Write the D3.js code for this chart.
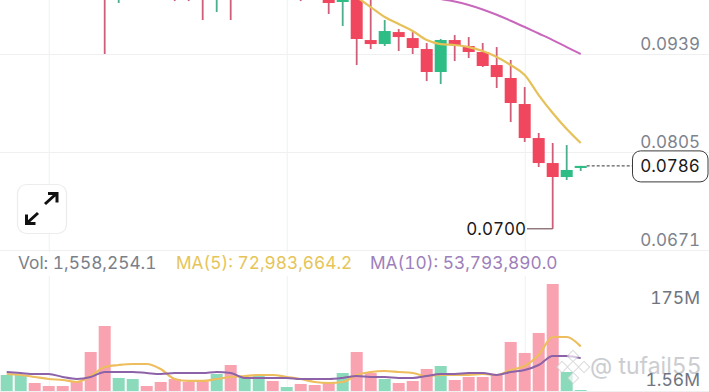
<!DOCTYPE html>
<html>
<head>
<meta charset="utf-8">
<script src="https://cdn.jsdelivr.net/npm/d3@7"></script>
<style>
  html, body { margin: 0; padding: 0; background: #fff; overflow: hidden; }
  text { font-family: Inter, "Noto Sans", sans-serif; font-variant-numeric: tabular-nums; }
</style>
</head>
<body>
<div id="container"></div>
<script>
let w = 709;
let h = 392;

// candles, oldest first. the first ones sit above the crop, their bodies are estimates
let opens = [.1108,.1122,.1134,.1126,.1120,.1115,.1106,.1088,.1056,.1072,.1084,.1078,.1070,.1060,.1052,.1039,.1050,.1034,.1044,.1052,.1045,.1049,.1038,.1030,.10101,.1022,.09581,.09526,.09690,.09608,.09458,.09144,.09581,.09499,.09417,.09239,.09062,.08706,.08241,.07899,.07708,.07831];
let closes = [.1122,.1134,.1126,.1120,.1115,.1106,.1088,.1056,.1072,.1084,.1078,.1070,.1060,.1052,.1039,.1050,.1034,.1044,.1052,.1045,.1049,.1038,.1030,.10087,.1022,.09595,.09526,.09704,.09622,.09472,.09144,.09581,.09513,.09417,.09226,.09075,.08720,.08241,.07899,.07708,.07804,.0786];
let highs = [.1130,.1141,.1139,.1131,.1124,.1119,.1111,.1094,.1081,.1090,.1089,.1082,.1074,.1066,.1058,.1057,.1054,.1049,.1058,.1056,.1053,.1052,.1042,.1034,.1027,.1035,.10128,.09855,.09731,.09690,.09540,.09595,.09649,.09622,.09540,.09485,.09308,.08938,.08310,.08173,.08145,.0786];
let lows = [.1098,.1112,.1119,.1114,.1108,.1101,.1076,.0939,.10087,.1062,.1070,.1061,.10114,.10114,.09855,.09964,.09855,.1026,.1037,.1038,.1039,.10114,.1021,.09937,.09773,.09239,.09458,.09499,.09431,.09390,.09020,.08979,.09294,.09335,.09212,.08925,.08460,.08187,.07845,.0700,.07667,.0779];

// price moving averages, only the part inside the crop
let priceMa5 = [[25,.10169],[26,.10032],[27,.09896],[28,.09800],[29,.09704],[30,.09581],[31,.09526],[32,.09513],[33,.09485],[34,.09431],[35,.09349],[36,.09239],[37,.09103],[38,.08829],[39,.08583],[40,.08364],[41,.08173]];
let priceMa10 = [[30,.1018],[31,.10142],[32,.10108],[33,.10060],[34,.09999],[35,.09926],[36,.09845],[37,.09759],[38,.09670],[39,.09581],[40,.09485],[41,.09390]];

// volume in millions
let volumes = [26.2,26.2,13.1,8.2,8.2,14.7,63.8,106.3,21.3,19.6,8.2,14.7,19.6,14.7,14.7,27.8,42.5,21.3,24.5,16.4,6.5,11.5,9.8,13.1,29.4,63.8,29.4,19.6,13.1,16.4,36.0,40.9,18,22.9,22.9,26.2,80.2,62.2,94.9,175,31.1,1.56];
let volMa5 = [27.8,26.2,22.9,19.6,18,14.7,24.5,39.3,42.5,44.2,44.2,36,19.6,16.4,16.4,19.6,22.9,24.5,26.2,26.2,22.9,19.6,14.7,13.1,14.7,26.2,31.1,32.7,31.1,29.4,24.5,26.2,26.2,26.2,27.8,26.2,34.4,40.9,58.9,88.3,88.3,73.0];
let volMa10 = [31.1,29.4,27.8,27.8,22.9,19.6,22.9,31.1,31.1,31.1,29.4,27.8,29.4,29.4,29.4,31.1,29.4,21.3,21.3,21.3,21.3,19.6,19.6,19.6,21.3,24.5,22.9,22.9,21.3,21.3,24.5,27.8,27.8,29.4,29.4,26.2,31.1,34.4,42.5,57.3,57.3,53.8];

let priceTicks = [0.0939, 0.0805, 0.0671];
let gridCandles = [3, 20, 37];
let lastPrice = 0.0786;
let lowPrice = 0.07;
let lowIndex = 39;

let red = "#f0475f";
let green = "#2ebd85";

let viz = d3.select("#container")
  .append("svg")
    .attr("width", w)
    .attr("height", h)
    .style("display", "block")
;

let indexes = d3.range(opens.length);
let xScale = d3.scaleLinear().domain([0, 41]).range([6.7, 580.7]);
let yScale = d3.scaleLinear().domain([0.0671, 0.0939]).range([250, 54]);
let volScale = d3.scaleLinear().domain([0, 175]).range([391, 284]);

// grid
let gridX = viz.append("g")
    .attr("transform", "translate(0,392)")
    .call(d3.axisBottom(xScale).tickValues(gridCandles).tickSize(-392).tickFormat(""));
let gridY = viz.append("g")
    .call(d3.axisRight(yScale).tickValues(priceTicks).tickSize(w).tickFormat(""));
let gridVol = viz.append("g")
    .call(d3.axisRight(volScale).tickValues([0]).tickSize(w).tickFormat(""));
[gridX, gridY, gridVol].forEach(function(g){
  g.select(".domain").remove();
  g.selectAll("line").attr("stroke", "#eff0f2");
});

// price axis labels sit on top of their grid line
let priceAxis = viz.append("g")
    .attr("transform", "translate(700,-10)")
    .call(d3.axisLeft(yScale).tickValues(priceTicks).tickSize(0).tickPadding(0).tickFormat(d3.format(".4f")));
priceAxis.select(".domain").remove();
priceAxis.selectAll("text")
    .style("font-size", "17px")
    .style("font-family", "Inter")
    .attr("fill", "#7d838d");

// legend row, it covers the grid line behind it
viz.append("rect").attr("x", 0).attr("y", 252).attr("width", w).attr("height", 24).attr("fill", "#fff");
let legend = [
  ["Vol: 1,558,254.1", 18, "#7a808a"],
  ["MA(5): 72,983,664.2", 176, "#e6c558"],
  ["MA(10): 53,793,890.0", 370, "#9d80bb"]
];
viz.selectAll(".legend").data(legend).enter().append("text")
    .attr("class", "legend")
    .attr("x", function(d){ return d[1] })
    .attr("y", 269)
    .attr("fill", function(d){ return d[2] })
    .style("font-size", "17.3px")
    .text(function(d){ return d[0] });

// volume bars
viz.selectAll(".vol").data(indexes).enter().append("rect")
    .attr("class", "vol")
    .attr("x", function(i){ return xScale(i) - 6 })
    .attr("width", 12)
    .attr("y", function(i){ return volScale(volumes[i]) })
    .attr("height", function(i){ return volScale(0) - volScale(volumes[i]) })
    .attr("fill", function(i){ return closes[i] >= opens[i] ? "#8adabb" : "#f9a2b0" });

let volLine = d3.line()
    .x(function(d, i){ return xScale(i) })
    .y(function(d){ return volScale(d) })
    .curve(d3.curveMonotoneX);
viz.append("path").attr("d", volLine(volMa5))
    .attr("fill", "none").attr("stroke", "#edbd5e").attr("stroke-width", 2.2);
viz.append("path").attr("d", volLine(volMa10))
    .attr("fill", "none").attr("stroke", "#8c62a8").attr("stroke-width", 2);

// candles
viz.selectAll(".wick").data(indexes).enter().append("line")
    .attr("class", "wick")
    .attr("x1", function(i){ return xScale(i) })
    .attr("x2", function(i){ return xScale(i) })
    .attr("y1", function(i){ return yScale(highs[i]) })
    .attr("y2", function(i){ return yScale(lows[i]) })
    .attr("stroke", function(i){ return closes[i] >= opens[i] ? "#4bae8c" : "#cf5f78" })
    .attr("stroke-width", 1.8);

viz.selectAll(".body").data(indexes).enter().append("rect")
    .attr("class", "body")
    .attr("x", function(i){ return xScale(i) - 6 })
    .attr("width", 12)
    .attr("y", function(i){ return yScale(Math.max(opens[i], closes[i])) })
    .attr("height", function(i){ return Math.abs(yScale(opens[i]) - yScale(closes[i])) })
    .attr("fill", function(i){ return closes[i] >= opens[i] ? green : red });

let priceLine = d3.line()
    .x(function(d){ return xScale(d[0]) })
    .y(function(d){ return yScale(d[1]) })
    .curve(d3.curveMonotoneX);
viz.append("path").attr("d", priceLine(priceMa5))
    .attr("fill", "none").attr("stroke", "#e6c058").attr("stroke-width", 2.2);
viz.append("path").attr("d", priceLine(priceMa10))
    .attr("fill", "none").attr("stroke", "#c868bd").attr("stroke-width", 2);

// last price tag
viz.append("line")
    .attr("x1", xScale(41) + 6).attr("x2", 632)
    .attr("y1", yScale(lastPrice)).attr("y2", yScale(lastPrice))
    .attr("stroke", "#333").attr("stroke-dasharray", "3 2");
viz.append("rect")
    .attr("x", 632.5).attr("y", yScale(lastPrice) - 15)
    .attr("width", 75.5).attr("height", 31).attr("rx", 8)
    .attr("fill", "#fff").attr("stroke", "#3a3a3a");
viz.append("text")
    .attr("x", 670).attr("y", yScale(lastPrice) + 6.5)
    .attr("text-anchor", "middle")
    .attr("fill", "#1a1a1a")
    .style("font-size", "17px")
    .text(d3.format(".4f")(lastPrice));

// lowest price marker
viz.append("line")
    .attr("x1", 527).attr("x2", xScale(lowIndex))
    .attr("y1", yScale(lowPrice)).attr("y2", yScale(lowPrice))
    .attr("stroke", "#7a5a60").attr("stroke-width", 1.2);
viz.append("text")
    .attr("x", 526).attr("y", yScale(lowPrice) + 6.5)
    .attr("text-anchor", "end")
    .attr("fill", "#1a1a1a")
    .style("font-size", "17px")
    .text(d3.format(".4f")(lowPrice));

// expand button
let btn = viz.append("g").attr("transform", "translate(17,184)");
btn.append("rect")
    .attr("x", .5).attr("y", .5).attr("width", 49).attr("height", 49).attr("rx", 9)
    .attr("fill", "#fff").attr("stroke", "#ececec").attr("stroke-width", 1.2);
btn.append("path")
    .attr("d", "M28 20L39 10M31 9.5H40V18.5M21 29L10 39M9.5 30.5V39.5H18.5")
    .attr("fill", "none").attr("stroke", "#111").attr("stroke-width", 3);

// volume labels
viz.append("text").attr("x", 700).attr("y", 304).attr("text-anchor", "end")
    .attr("fill", "#6f7580").style("font-size", "17.5px").text("175M");

// watermark
let mark = viz.append("g").attr("transform", "translate(573,367)").attr("opacity", .65);
[[0,-11],[-11,0],[11,0],[0,11],[0,0]].forEach(function(p){
  mark.append("rect")
      .attr("x", p[0] - 4).attr("y", p[1] - 4).attr("width", 8).attr("height", 8)
      .attr("transform", "rotate(45 " + p[0] + " " + p[1] + ")")
      .attr("fill", "#fff").attr("stroke", "#c4c6ca");
});
viz.append("text").attr("x", 590).attr("y", 374)
    .attr("fill", "#c3c5c9").attr("opacity", .85)
    .style("font-size", "23px").text("@ tufail55");
viz.append("text").attr("x", 700).attr("y", 386).attr("text-anchor", "end")
    .attr("fill", "#6f7580").style("font-size", "17.5px").text("1.56M");
</script>
</body>
</html>
